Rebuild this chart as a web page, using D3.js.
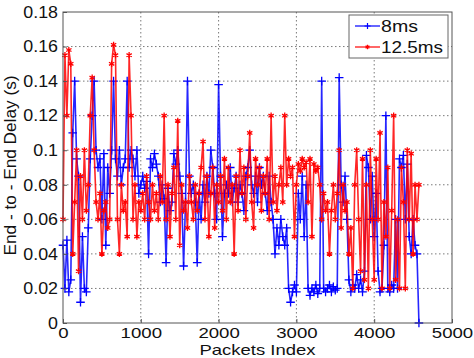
<!DOCTYPE html>
<html><head><meta charset="utf-8">
<script src="https://cdn.jsdelivr.net/npm/d3@7"></script>
<style>body{margin:0;background:#fff}svg{display:block}text{font-family:"Liberation Sans",Arial,sans-serif}</style>
</head><body><svg id="c" width="474" height="358"></svg>
<script>
const packetStep = 25;
const xTicks = [0, 1000, 2000, 3000, 4000, 5000];
const yTicks = [0, 0.02, 0.04, 0.06, 0.08, 0.1, 0.12, 0.14, 0.16, 0.18];
const yTickLabels = ["0","0.02","0.04","0.06","0.08","0.1","0.12","0.14","0.16","0.18"];
const seriesNames = ["8ms", "12.5ms"];
const delay8ms = [
.045,.020,.048,.018, .025,.110,.140,.095, .085,.012,.050,.020, .018,.055,.095,.120,
.140,.100,.090,.095, .060,.098,.045,.090, .075,.100,.140,.095, .085,.100,.080,.090,
.095,.140,.090,.100, .095,.085,.100,.075, .080,.085,.078,.082, .040,.095,.090,.098,
.092,.085,.070,.080, .072,.035,.078,.065, .070,.098,.092,.100, .085,.075,.033,.070,
.140,.085,.075,.080, .070,.035,.075,.060, .080,.070,.085,.075, .100,.090,.075,.060,
.138,.085,.050,.075, .080,.075,.090,.070, .078,.085,.070,.080, .075,.065,.085,.090,
.100,.080,.075,.085, .070,.090,.080,.085, .075,.065,.085,.070, .060,.040,.055,.045,
.060,.050,.045,.055, .020,.012,.018,.022, .018,.075,.060,.085, .050,.080,.020,.016,
.020,.018,.022,.017, .020,.140,.020,.018, .020,.022,.018,.021, .019,.020,.142,.080,
.070,.085,.060,.025, .018,.022,.020,.028, .020,.025,.018,.030, .097,.090,.060,.085,
.050,.075,.030,.018, .020,.045,.120,.020, .018,.022,.020,.060, .020,.095,.090,.097,
.060,.092,.050,.040, .060,.045,.040,.000
];
const delay12_5ms = [
.060,.155,.120,.158, .150,.040,.070,.100, .030,.085,.060,.100, .065,.080,.120,.142,
.100,.070,.060,.075, .040,.065,.070,.055, .060,.150,.161,.155, .060,.040,.080,.065,
.070,.050,.155,.120, .060,.080,.050,.070, .065,.075,.060,.085, .070,.060,.080,.065,
.075,.060,.085,.070, .120,.060,.080,.050, .075,.090,.060,.117, .045,.080,.065,.070,
.055,.085,.070,.060, .080,.065,.075,.090, .105,.060,.085,.050, .075,.090,.055,.080,
.070,.085,.065,.095, .060,.090,.070,.080, .040,.085,.065,.100, .075,.090,.060,.085,
.110,.070,.055,.095, .080,.090,.065,.085, .075,.095,.060,.120, .070,.085,.065,.080,
.090,.070,.120,.080, .095,.085,.090,.050, .080,.092,.088,.095, .090,.093,.070,.095,
.050,.092,.088,.090, .080,.060,.075,.065, .070,.040,.065,.080, .060,.075,.100,.055,
.080,.065,.070,.040, .055,.020,.080,.100, .060,.030,.095,.025, .080,.020,.100,.060,
.025,.095,.060,.110, .020,.070,.050,.090, .020,.065,.120,.025, .060,.020,.090,.070,
.020,.100,.060,.098, .040,.080,.060,.080
];
const colors = ["#0000ff", "#ff0000"];

const svg = d3.select("#c");
const m = {l: 63, r: 452, t: 12, b: 323};
const x = d3.scaleLinear().domain([0, 5000]).range([m.l, m.r]);
const y = d3.scaleLinear().domain([0, 0.18]).range([m.b, m.t]);

function stretch(sel, f) {
  sel.each(function() {
    const L = this.getComputedTextLength();
    this.setAttribute("textLength", L * f);
    this.setAttribute("lengthAdjust", "spacingAndGlyphs");
  });
}
function fit(sel, w) {
  sel.attr("textLength", w).attr("lengthAdjust", "spacingAndGlyphs");
}

// grid
const g = svg.append("g");
g.selectAll("line.gx").data(xTicks.slice(1, -1)).join("line")
  .attr("x1", d => x(d)).attr("x2", d => x(d)).attr("y1", m.t).attr("y2", m.b)
  .attr("stroke", "#7a7a7a").attr("stroke-width", 1).attr("stroke-dasharray", "1.5,2.5");
g.selectAll("line.gy").data(yTicks.slice(1, -1)).join("line")
  .attr("y1", d => y(d)).attr("y2", d => y(d)).attr("x1", m.l).attr("x2", m.r)
  .attr("stroke", "#7a7a7a").attr("stroke-width", 1).attr("stroke-dasharray", "1.5,2.5");

// series
const series = [delay8ms, delay12_5ms];
series.forEach((vals, si) => {
  const pts = vals.map((v, i) => [i * packetStep, v]);
  const line = d3.line().x(d => x(d[0])).y(d => y(d[1]));
  const sg = svg.append("g");
  sg.append("path").datum(pts).attr("d", line).attr("fill", "none")
    .attr("stroke", colors[si]).attr("stroke-width", 1.6).attr("stroke-opacity", 0.85);
  const sym = d3.symbol().type(si === 0 ? d3.symbolPlus : d3.symbolAsterisk).size(26);
  sg.selectAll("path.m").data(pts).join("path")
    .attr("transform", d => `translate(${x(d[0])},${y(d[1])})`)
    .attr("d", sym).attr("fill", "none").attr("stroke", colors[si]).attr("stroke-width", 1.3);
});

// axes box
svg.append("rect").attr("x", m.l).attr("y", m.t).attr("width", m.r - m.l).attr("height", m.b - m.t)
  .attr("fill", "none").attr("stroke", "#555").attr("stroke-width", 1);

// ticks
const xAxis = d3.axisBottom(x).tickValues(xTicks).tickSize(-4).tickFormat(d3.format("d"));
const xa = svg.append("g").attr("transform", `translate(0,${m.b})`).call(xAxis);
xa.select(".domain").remove();
xa.selectAll("line").attr("stroke", "#555");
xa.selectAll("text").attr("font-size", 15.5).attr("fill", "#111").attr("dy", null).attr("y", 15);
stretch(xa.selectAll("text"), 1.2);

const yAxis = d3.axisLeft(y).tickValues(yTicks).tickSize(-4).tickPadding(5)
  .tickFormat((d, i) => yTickLabels[i]);
const ya = svg.append("g").attr("transform", `translate(${m.l},0)`).call(yAxis);
ya.select(".domain").remove();
ya.selectAll("line").attr("stroke", "#555");
ya.selectAll("text").attr("font-size", 16.5).attr("fill", "#111").attr("x", -5);
stretch(ya.selectAll("text"), 1.08);

// axis labels
const xl = svg.append("text").attr("x", (m.l + m.r) / 2).attr("y", 354.5).attr("text-anchor", "middle")
  .attr("font-size", 15).attr("fill", "#111").text("Packets Index");
fit(xl, 116);
const yl = svg.append("text").attr("transform", `translate(16,${(m.t + m.b) / 2 - 2}) rotate(-90)`)
  .attr("text-anchor", "middle").attr("font-size", 16).attr("fill", "#111").text("End - to - End Delay (s)");
fit(yl, 180);

// legend
const lg = svg.append("g");
lg.append("rect").attr("x", 349).attr("y", 15).attr("width", 99).attr("height", 43)
  .attr("fill", "#fff").attr("stroke", "#666").attr("stroke-width", 1);
const legendW = [37, 62];
seriesNames.forEach((name, i) => {
  const ly = 26 + i * 21;
  lg.append("line").attr("x1", 355).attr("x2", 380).attr("y1", ly).attr("y2", ly)
    .attr("stroke", colors[i]).attr("stroke-width", 1.2);
  lg.append("path").attr("transform", `translate(367.5,${ly})`)
    .attr("d", d3.symbol().type(i === 0 ? d3.symbolPlus : d3.symbolAsterisk).size(14))
    .attr("fill", "none").attr("stroke", colors[i]).attr("stroke-width", 1.2);
  const t = lg.append("text").attr("x", 381).attr("y", ly + 6).attr("font-size", 17).attr("fill", "#111").text(name);
  fit(t, legendW[i]);
});
</script></body></html>
